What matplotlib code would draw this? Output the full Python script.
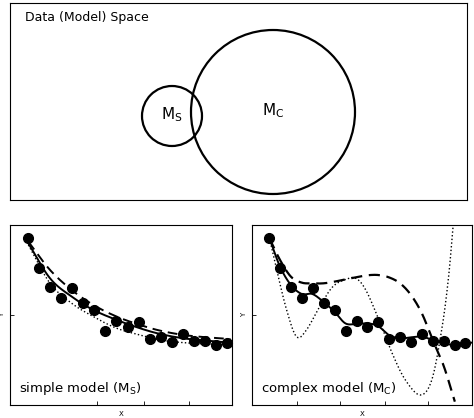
import numpy as np
import matplotlib
matplotlib.use("Agg")
import matplotlib.pyplot as plt
from matplotlib.patches import Circle

pts_x = [0,33,66,99,132,165,198,231,264,297,330,363,396,429,462,495,528,561,594]
pts_y = [55,143,200,233,205,250,271,333,303,321,306,356,350,365,343,363,363,375,368]

# simple model curves
s_solid_x = [0,65,130,195,265,335,395,465,535,605]
s_solid_y = [70,175,230,270,300,325,342,355,362,368]
s_dash_y  = [65,150,210,255,290,315,332,345,352,357]
s_dot_y   = [75,190,250,290,325,345,360,368,372,375]

# complex model curves
c_solid_x = [0,32,65,98,130,163,197,230,263,296,329,362,396,429,462,495,529,562,595,612]
c_solid_y = [55,140,195,222,222,245,275,310,312,310,318,345,355,352,350,360,370,375,370,368]
c_dash_x = [0,32,65,98,130,163,197,230,263,296,329,362,396,429,462,495,529,562]
c_dash_y = [55,120,170,188,190,190,185,178,172,166,165,172,190,225,280,360,440,545]
c_dot_x = [0,22,52,82,112,152,192,232,262,292,332,372,412,457,492,522,542,557]
c_dot_y = [55,150,270,350,330,260,200,178,175,210,300,400,480,525,480,330,180,15]

def smooth(x, y, n=20):
    x = np.asarray(x, float); y = np.asarray(y, float)
    P = np.column_stack([x, y])
    P = np.vstack([2*P[0]-P[1], P, 2*P[-1]-P[-2]])
    out = []
    for i in range(1, len(P)-2):
        p0, p1, p2, p3 = P[i-1], P[i], P[i+1], P[i+2]
        for t in np.linspace(0, 1, n, endpoint=False):
            out.append(0.5*((2*p1) + (-p0+p2)*t + (2*p0-5*p1+4*p2-p3)*t**2 + (-p0+3*p1-3*p2+p3)*t**3))
    out.append(P[-2])
    out = np.array(out)
    return out[:, 0], out[:, 1]

fig = plt.figure(figsize=(4.74, 4.18), dpi=100)
W, H = 474, 418

def ax_at(l, t, r, b):
    return fig.add_axes([l/W, 1-b/H, (r-l)/W, (b-t)/H])

top = ax_at(10, 3, 467, 200)
top.set_xlim(10, 467); top.set_ylim(200, 3)
top.set_xticks([]); top.set_yticks([])
top.add_patch(Circle((172, 116), 30, fill=False, lw=1.6, color='black'))
top.add_patch(Circle((273, 112), 82, fill=False, lw=1.6, color='black'))
top.text(25, 17, "Data (Model) Space", fontsize=9, va='center')
top.text(172, 115, r"M$_\mathregular{S}$", fontsize=11, ha='center', va='center')
top.text(273, 111, r"M$_\mathregular{C}$", fontsize=11, ha='center', va='center')

def panel(ax, label):
    ax.set_ylim(555, 15)
    ax.set_yticks([285]); ax.set_yticklabels([])
    ax.tick_params(direction='in', length=3, width=0.6)
    ax.set_ylabel("Y", fontsize=5)
    ax.yaxis.set_label_coords(-0.022, 0.5)
    ax.set_xlabel("X", fontsize=5, labelpad=1)
    ax.text(0.04, 0.07, label, transform=ax.transAxes, fontsize=9.5)
    ax.plot(pts_x, pts_y, 'o', color='black', ms=7, zorder=5, clip_on=False)

a1 = ax_at(10, 225, 232, 405)
a1.set_xlim(-55, 610)
a1.set_xticks([205, 345, 480]); a1.set_xticklabels([])
x, y = smooth(s_solid_x, s_solid_y); a1.plot(x, y, '-', color='black', lw=1.4)
x, y = smooth(s_solid_x, s_dash_y); a1.plot(x, y, '--', color='black', lw=1.4, dashes=(5, 3))
x, y = smooth(s_solid_x, s_dot_y); a1.plot(x, y, ':', color='black', lw=1.0)
panel(a1, r"simple model (M$_\mathregular{S}$)")

a2 = ax_at(252, 225, 472, 405)
a2.set_xlim(-53, 614)
a2.set_xticks([82, 215, 350, 480]); a2.set_xticklabels([])
x, y = smooth(c_solid_x, c_solid_y); a2.plot(x, y, '-', color='black', lw=1.4)
x, y = smooth(c_dash_x, c_dash_y); a2.plot(x, y, '--', color='black', lw=1.6, dashes=(5, 3))
x, y = smooth(c_dot_x, c_dot_y); a2.plot(x, y, ':', color='black', lw=1.0)
panel(a2, r"complex model (M$_\mathregular{C}$)")

fig.savefig("out.png", dpi=100)
